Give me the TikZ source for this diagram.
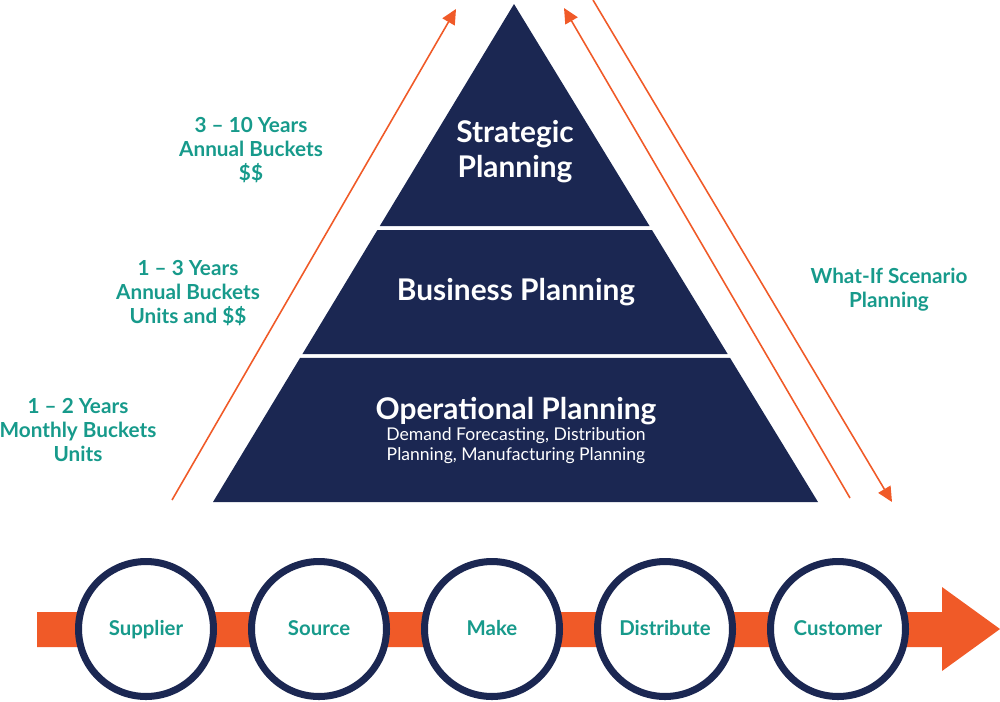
\documentclass[tikz,border=0pt]{standalone}
\usepackage{fontspec}
\setmainfont{Lato}
\usetikzlibrary{arrows.meta,calc}
\definecolor{navy}{HTML}{1B2752}
\definecolor{flow}{HTML}{F05A28}
\definecolor{note}{HTML}{179A8B}
\begin{document}
\begin{tikzpicture}[x=0.02cm,y=-0.02cm,
        tier/.style={text=white,font=\bfseries\fontsize{17}{20}\selectfont,align=center},
        detail/.style={text=white,font=\fontsize{10}{11.4}\selectfont,align=center},
        horizon/.style={text=note,font=\bfseries\fontsize{11.8}{13.6}\selectfont,align=center},
        stage/.style={draw=navy,line width=4pt,fill=white,circle,minimum size=2.7cm,inner sep=0pt,text height=0.9em,text depth=0.15em,text=note,font=\bfseries\fontsize{11.6}{13}\selectfont},
        link/.style={draw=flow,line width=0.9pt,-{Triangle[length=8.5pt,width=8pt]}}]
        \useasboundingbox (0,0) rectangle (1000,701);
        %% Pyramid corners
        \coordinate (apex) at (514,4);
        \coordinate (bl) at (213,502);
        \coordinate (br) at (818,502);
        %% Tiers
        \fill[navy] (apex) -- ($(apex)!0.4458!(bl)$) -- ($(apex)!0.4458!(br)$) -- cycle;
        \fill[navy] ($(apex)!0.4538!(bl)$) -- ($(apex)!0.7028!(bl)$) -- ($(apex)!0.7028!(br)$) -- ($(apex)!0.4538!(br)$) -- cycle;
        \fill[navy] ($(apex)!0.7108!(bl)$) -- (bl) -- (br) -- ($(apex)!0.7108!(br)$) -- cycle;
        \node[tier] (strategic) at (515,152) {Strategic\\Planning};
        \node[tier] (business) at (516,292) {Business Planning};
        \node[tier] (operational) at (516,411) {Operational Planning};
        \node[detail] (opsdetail) at (516,446) {Demand Forecasting, Distribution\\Planning, Manufacturing Planning};
        %% Horizons
        \node[horizon] (long) at (251,150) {3 – 10 Years\\Annual Buckets\\\$\$};
        \node[horizon] (mid) at (188,293) {1 – 3 Years\\Annual Buckets\\Units and \$\$};
        \node[horizon] (short) at (78,430) {1 – 2 Years\\Monthly Buckets\\Units};
        \node[horizon] (whatif) at (889,290) {What-If Scenario\\Planning};
        %% Arrows
        \coordinate (upleft0) at (172,500);
        \coordinate (upleft1) at (456,9);
        \coordinate (upright0) at (850,498);
        \coordinate (upright1) at (564,8);
        \coordinate (down0) at (593,0);
        \coordinate (down1) at (892,502);
        \draw[link] (upleft0) -- (upleft1);
        \draw[link] (upright0) -- (upright1);
        \draw[link] (down0) -- (down1);
        %% Supply chain
        \fill[flow] (37,612) -- (942,612) -- (942,587) -- (1000,629) -- (942,671) -- (942,647) -- (37,647) -- cycle;
        \foreach \x/\name/\txt in {146/supplier/Supplier,319/source/Source,492/make/Make,665/distribute/Distribute,838/customer/Customer}
            \node[stage] (\name) at (\x,629) {\txt};
\end{tikzpicture}
\end{document}
